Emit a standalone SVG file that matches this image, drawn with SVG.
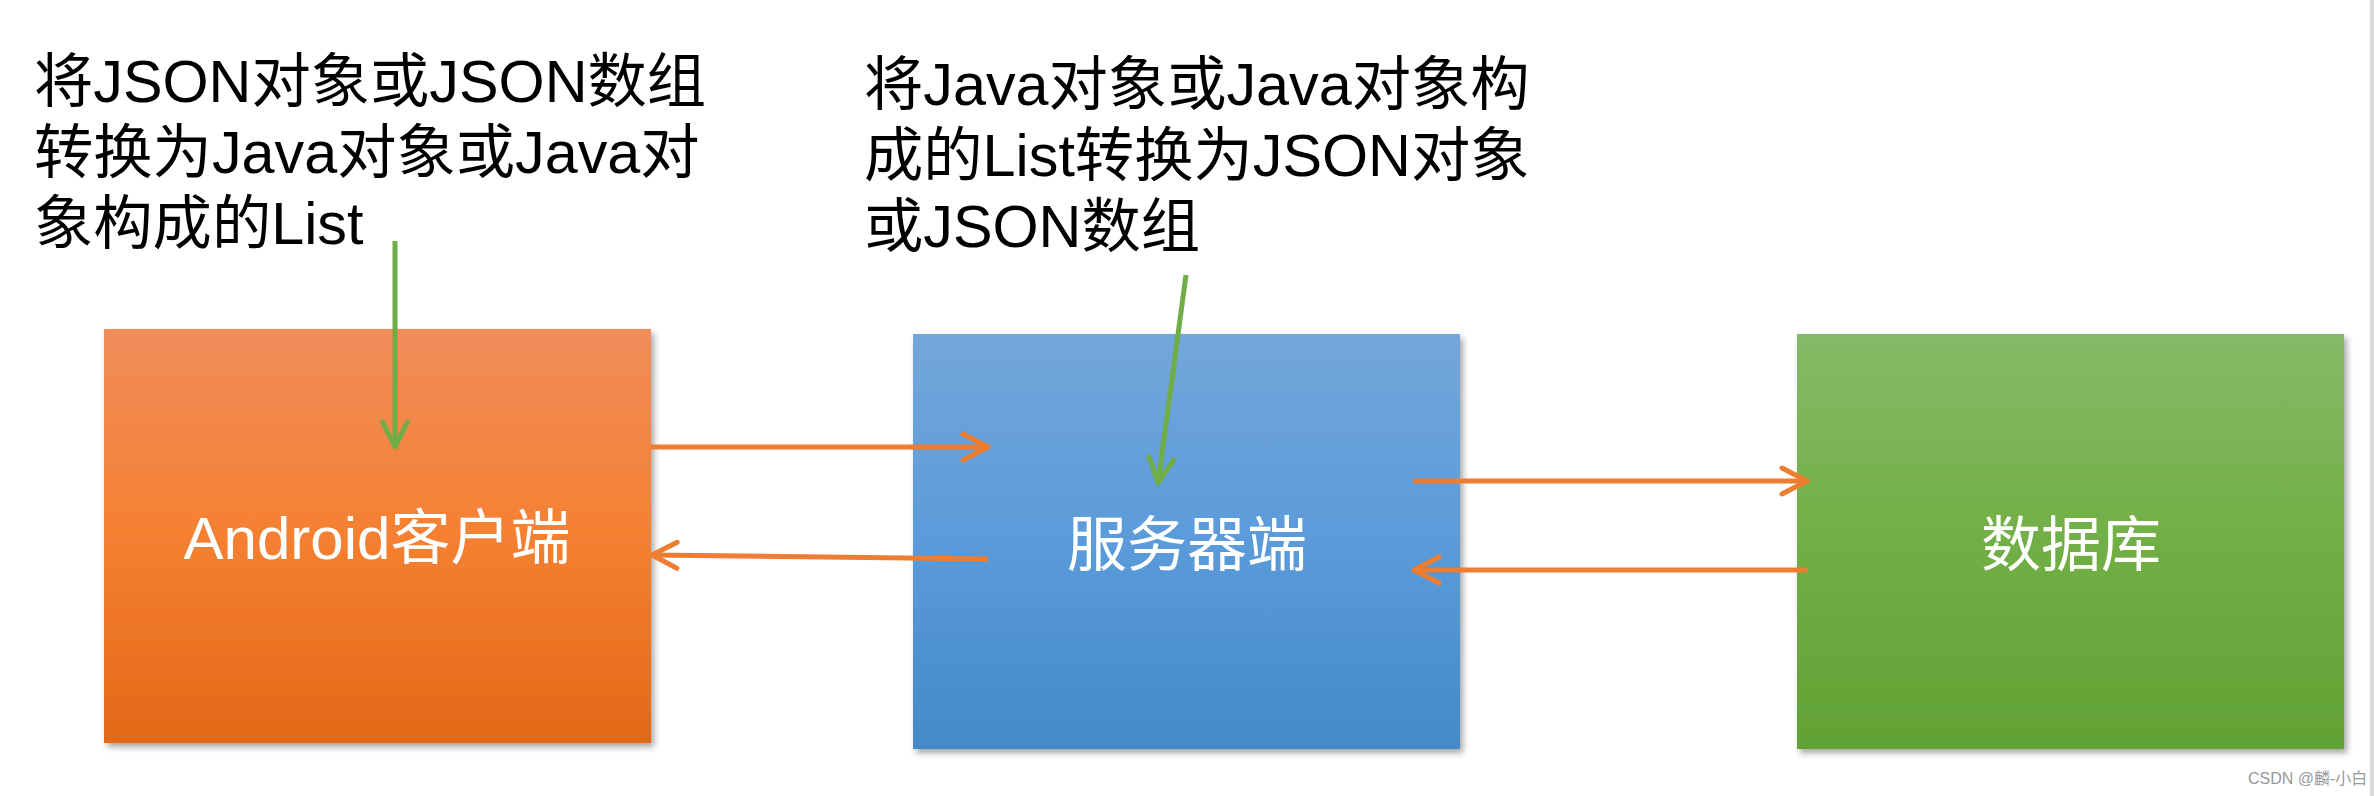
<svg xmlns="http://www.w3.org/2000/svg" width="2374" height="796" viewBox="0 0 2374 796">
  <style>
    .note { font-family: "Liberation Sans", "Noto Sans CJK SC", sans-serif; font-size: 59.3px; fill: #000; }
    .label { font-family: "Liberation Sans", "Noto Sans CJK SC", sans-serif; font-size: 60px; fill: #fff; text-anchor: middle; }
    .orange { fill: none; stroke: #ED7D31; stroke-width: 5; }
    .green { fill: none; stroke: #70AD47; stroke-width: 5; }
    .wm { font-family: "Liberation Sans", "Noto Sans CJK SC", sans-serif; font-size: 16px; fill: #999; }
  </style>
  <defs>
    <linearGradient id="gOrange" x1="0" y1="0" x2="0" y2="1">
      <stop offset="0" stop-color="#F08D5B"/>
      <stop offset="0.5" stop-color="#F58031"/>
      <stop offset="1" stop-color="#E36817"/>
    </linearGradient>
    <linearGradient id="gBlue" x1="0" y1="0" x2="0" y2="1">
      <stop offset="0" stop-color="#73A7DA"/>
      <stop offset="0.5" stop-color="#5B9BDA"/>
      <stop offset="1" stop-color="#4489C8"/>
    </linearGradient>
    <linearGradient id="gGreen" x1="0" y1="0" x2="0" y2="1">
      <stop offset="0" stop-color="#86BA67"/>
      <stop offset="0.5" stop-color="#71AF45"/>
      <stop offset="1" stop-color="#61A234"/>
    </linearGradient>
    <filter id="shadow" x="-5%" y="-5%" width="115%" height="115%">
      <feDropShadow dx="3" dy="4" stdDeviation="3" flood-color="#000" flood-opacity="0.35"/>
    </filter>
    <marker id="arrOrange" markerUnits="userSpaceOnUse" markerWidth="40" markerHeight="40" viewBox="-30 -20 40 40" refX="0" refY="0" orient="auto">
      <path d="M-25,-13 L0,0 L-25,13" fill="none" stroke="#ED7D31" stroke-width="5" stroke-linecap="round" stroke-linejoin="round"/>
    </marker>
    <marker id="arrGreen" markerUnits="userSpaceOnUse" markerWidth="40" markerHeight="40" viewBox="-30 -20 40 40" refX="0" refY="0" orient="auto">
      <path d="M-25,-12.5 L0,0 L-25,12.5" fill="none" stroke="#70AD47" stroke-width="5" stroke-linecap="round" stroke-linejoin="round"/>
    </marker>
  </defs>

  <rect x="0" y="0" width="2374" height="796" fill="#fff"/>
  <rect x="2370" y="0" width="4" height="796" fill="#DADADA"/>

  <g id="note-left">
    <text class="note" x="34" y="102">将JSON对象或JSON数组</text>
    <text class="note" x="34" y="173">转换为Java对象或Java对</text>
    <text class="note" x="34" y="244">象构成的List</text>
  </g>

  <g id="note-right">
    <text class="note" x="864" y="105">将Java对象或Java对象构</text>
    <text class="note" x="864" y="176">成的List转换为JSON对象</text>
    <text class="note" x="864" y="247">或JSON数组</text>
  </g>

  <g id="android">
    <rect x="104" y="329" width="547" height="414" fill="url(#gOrange)" filter="url(#shadow)"/>
    <text class="label" x="377" y="559">Android客户端</text>
  </g>

  <g id="server">
    <rect x="913" y="334" width="547" height="415" fill="url(#gBlue)" filter="url(#shadow)"/>
    <text class="label" x="1187" y="566">服务器端</text>
  </g>

  <g id="database">
    <rect x="1797" y="334" width="547" height="415" fill="url(#gGreen)" filter="url(#shadow)"/>
    <text class="label" x="2071" y="566">数据库</text>
  </g>

  <g id="connectors">
    <path class="green" d="M395,241 L395,447" marker-end="url(#arrGreen)"/>
    <path class="green" d="M1186,275 L1158,483" marker-end="url(#arrGreen)"/>
    <path class="orange" d="M651,447 L988,447" marker-end="url(#arrOrange)"/>
    <path class="orange" d="M988,559 L652,555" marker-end="url(#arrOrange)"/>
    <path class="orange" d="M1413,481 L1807,481" marker-end="url(#arrOrange)"/>
    <path class="orange" d="M1807,570 L1414,570" marker-end="url(#arrOrange)"/>
  </g>

  <text class="wm" x="2248" y="784">CSDN @麟-小白</text>
</svg>
